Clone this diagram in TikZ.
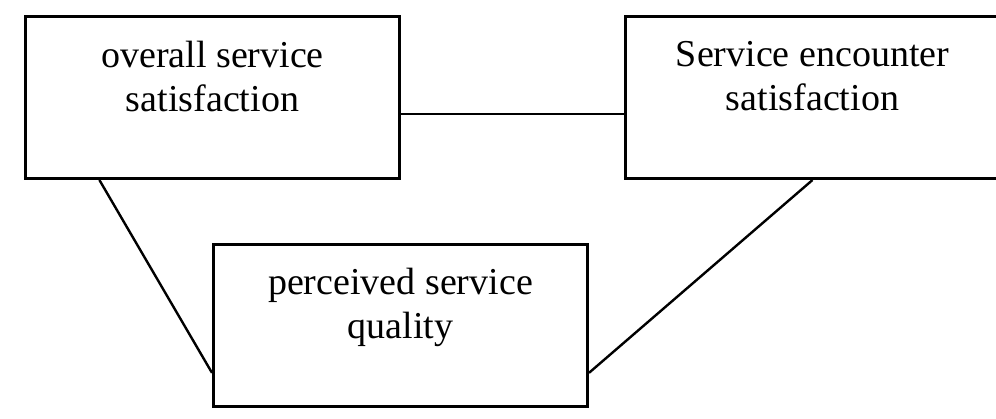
\documentclass[tikz,border=0pt]{standalone}
\usepackage{fontspec}
\setmainfont{Liberation Serif}
\usetikzlibrary{positioning, calc}
\tikzset{
    box/.style={draw=black, line width=1.5pt, minimum width=187pt, minimum height=81pt, inner sep=0pt},
    boxText/.style={anchor=north, align=center, inner sep=0pt, font=\fontsize{19}{22}\selectfont},
    link/.style={draw=black, line width=1.2pt}
}
\begin{document}
\begin{tikzpicture}[x=0.5pt, y=-0.5pt]
    \useasboundingbox (0,0) rectangle (996,418);
    \clip (0,0) rectangle (996,418);

    % --- BOXES ---
    \node[box] (overall) at (212.5,97.5) {};
    \node[box] (encounter) at (812.5,97.5) {};
    \node[box] (quality) at (400.5,325) {};

    % --- TEXTS ---
    \node[boxText, below=12.8pt of overall.north] (overallText) {overall service\\satisfaction};
    \node[boxText, below=12.8pt of encounter.north] (encounterText) {Service encounter\\satisfaction};
    \node[boxText, below=12.8pt of quality.north] (qualityText) {perceived service\\quality};

    % --- CONNECTIONS ---
    \draw[link] ($(overall.north east)!0.6!(overall.south east)$) -- ($(encounter.north west)!0.6!(encounter.south west)$);
    \draw[link] ($(overall.south west)!0.2!(overall.south east)$) -- ($(quality.north west)!0.79!(quality.south west)$);
    \draw[link] (encounter.south) -- ($(quality.north east)!0.79!(quality.south east)$);

\end{tikzpicture}
\end{document}
